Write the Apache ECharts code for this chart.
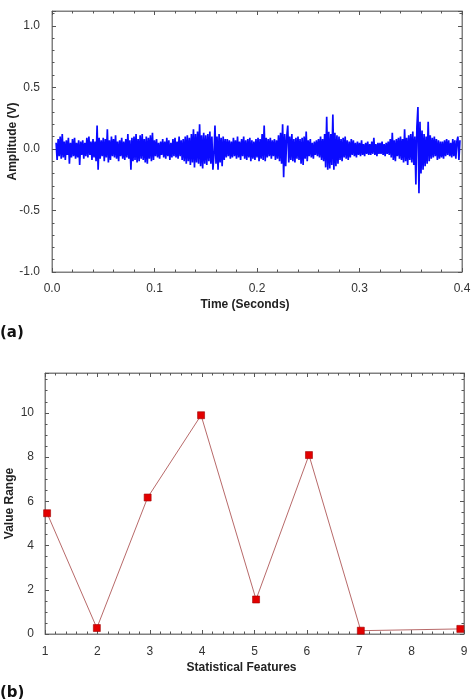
<!DOCTYPE html>
<html>
<head>
<meta charset="utf-8">
<script src="https://cdn.jsdelivr.net/npm/echarts@6/dist/echarts.min.js"></script>
<style>
html,body{margin:0;padding:0;background:#fff;}
#c{width:474px;height:699px;}
</style>
</head>
<body>
<div id="c"></div>
<script>
// ---- (a) vibration signal: amplitude samples (V), one every 1 ms starting at 4 ms ----
var signalStart = 0.004;
var signalStep = 0.001;
var amplitude = [
 0.05,-0.09,0.08,-0.06,0.1,-0.08,
 0.12,-0.07,0.06,-0.09,0.07,-0.05,0.09,-0.12,0.05,-0.07,
 0.08,-0.06,0.09,-0.08,0.05,-0.07,0.07,-0.13,0.06,-0.05,
 0.07,-0.08,0.05,-0.06,0.09,-0.07,0.1,-0.05,0.06,-0.09,
 0.08,-0.07,0.06,-0.1,0.19,-0.17,0.09,-0.08,0.07,-0.06,
 0.09,-0.1,0.08,-0.07,0.16,-0.11,0.07,-0.09,0.1,-0.06,
 0.08,-0.07,0.11,-0.08,0.06,-0.1,0.07,-0.06,0.09,-0.08,
 0.06,-0.09,0.08,-0.07,0.12,-0.08,0.07,-0.17,0.09,-0.1,
 0.1,-0.09,0.12,-0.11,0.08,-0.1,0.11,-0.08,0.12,-0.09,
 0.08,-0.11,0.1,-0.12,0.09,-0.08,0.11,-0.1,0.13,-0.09,
 0.07,-0.06,0.08,-0.07,0.05,-0.08,0.06,-0.05,0.08,-0.07,
 0.06,-0.08,0.09,-0.06,0.07,-0.09,0.05,-0.07,0.08,-0.06,
 0.09,-0.07,0.06,-0.08,0.1,-0.06,0.07,-0.09,0.08,-0.1,
 0.1,-0.12,0.11,-0.1,0.09,-0.13,0.12,-0.11,0.16,-0.15,
 0.12,-0.11,0.14,-0.12,0.2,-0.14,0.11,-0.16,0.13,-0.12,
 0.11,-0.13,0.12,-0.1,0.14,-0.12,0.1,-0.17,-0.05,0.19,
 -0.12,0.1,-0.17,0.12,-0.11,0.09,-0.14,0.1,-0.09,0.08,
 -0.07,0.08,-0.06,0.07,-0.08,0.06,-0.07,0.09,-0.06,0.07,
 -0.08,0.1,-0.07,0.06,-0.09,0.08,-0.06,0.1,-0.08,0.07,
 -0.09,0.08,-0.07,0.09,-0.1,0.07,-0.08,0.06,-0.09,0.08,
 -0.07,0.09,-0.1,0.08,-0.08,0.12,-0.09,0.19,-0.1,0.09,
 -0.07,0.08,-0.06,0.09,-0.08,0.07,-0.06,0.08,-0.09,0.07,
 -0.08,0.11,-0.1,0.13,-0.12,0.2,-0.23,0.12,-0.14,0.1,
 0.19,-0.11,0.1,-0.09,0.12,-0.1,0.08,-0.11,0.09,-0.08,
 0.1,-0.09,0.08,-0.12,0.09,-0.13,0.1,-0.08,0.14,-0.1,
 0.07,-0.06,0.08,-0.07,0.05,-0.08,0.06,-0.05,0.07,-0.06,
 0.08,-0.07,0.1,-0.09,0.08,-0.1,0.12,-0.15,0.26,-0.17,
 0.14,-0.16,0.12,-0.13,0.28,-0.17,0.13,-0.14,0.11,-0.12,
 0.1,-0.09,0.08,-0.1,0.09,-0.07,0.1,-0.08,0.07,-0.09,
 0.06,-0.07,0.08,-0.05,0.07,-0.06,0.05,-0.07,0.06,-0.05,
 0.05,-0.06,0.07,-0.05,0.04,-0.06,0.05,-0.04,0.06,-0.05,
 0.04,-0.05,0.06,-0.04,0.09,-0.05,0.04,-0.06,0.05,-0.04,
 0.05,-0.04,0.06,-0.05,0.04,-0.06,0.05,-0.04,0.06,-0.05,
 0.08,-0.07,0.13,-0.09,0.07,-0.1,0.08,-0.06,0.09,-0.08,
 0.1,-0.09,0.08,-0.11,0.16,-0.1,0.09,-0.13,0.11,-0.09,
 0.12,-0.11,0.14,-0.13,0.1,-0.29,0.18,0.34,-0.36,0.22,
 -0.2,0.15,-0.17,0.12,-0.14,0.1,-0.12,0.22,-0.1,0.11,
 -0.08,0.09,-0.07,0.1,-0.06,0.08,-0.09,0.07,-0.08,0.06,
 -0.07,0.06,-0.08,0.07,-0.06,0.08,-0.05,0.07,-0.06,0.05,
 -0.07,0.08,-0.06,0.07,-0.08,0.06,0.1,-0.09,0.07
];

// ---- (b) statistical features ----
var featureIndex = [1.04, 1.99, 2.96, 3.98, 5.03, 6.04, 7.03, 8.93];
var featureValue = [5.46, 0.27, 6.17, 9.89, 1.56, 8.09, 0.15, 0.23];

var signalData = amplitude.map(function (v, i) {
  return [+(signalStart + i * signalStep).toFixed(3), v];
});
var featureData = featureIndex.map(function (x, i) { return [x, featureValue[i]]; });

var FONT = '"Liberation Sans", Arial, sans-serif';
var labelStyle = { color: '#333', fontSize: 12, fontFamily: FONT };
var TICK = { color: '#555', width: 1 };

function axis(grid, min, max, interval, split, pos, opts) {
  var a = {
    type: 'value', gridIndex: grid, min: min, max: max, interval: interval,
    position: pos,
    axisLine: { show: true, onZero: false, lineStyle: { color: '#808080', width: 1 } },
    axisTick: { show: true, inside: true, length: 4, lineStyle: TICK },
    minorTick: { show: true, splitNumber: split, length: 2.5, lineStyle: TICK },
    axisLabel: { show: false },
    splitLine: { show: false }
  };
  if (opts) {
    a.name = opts.name; a.nameLocation = 'middle'; a.nameGap = opts.gap;
    if (opts.noMove) a.nameMoveOverlap = false;
    a.nameTextStyle = { color: '#222', fontSize: 12, fontWeight: 'bold', fontFamily: FONT, padding: opts.pad || 0 };
    a.axisLabel = Object.assign({ show: true, margin: opts.margin, showMaxLabel: opts.showMax, formatter: opts.fmt }, labelStyle);
  }
  return a;
}

var chart = echarts.init(document.getElementById('c'), null, { renderer: 'canvas' });
chart.setOption({
  backgroundColor: '#fff',
  animation: false,
  grid: [
    { left: 52, right: 12, top: 11, height: 261, containLabel: false, outerBoundsMode: 'none',
      show: true, borderColor: '#808080', borderWidth: 1, backgroundColor: 'transparent' },
    { left: 45, right: 10, top: 373, height: 261, containLabel: false, outerBoundsMode: 'none',
      show: true, borderColor: '#808080', borderWidth: 1, backgroundColor: 'transparent' }
  ],
  xAxis: [
    axis(0, 0, 0.4, 0.1, 5, 'bottom', { name: 'Time (Seconds)', gap: 27, margin: 11, showMax: true, pad: [0, 24, 0, 0], fmt: function (v) { return v.toFixed(1); } }),
    axis(0, 0, 0.4, 0.1, 5, 'top'),
    axis(1, 1, 9, 1, 5, 'bottom', { name: 'Statistical Features', gap: 28, margin: 12, showMax: true, pad: [0, 26, 0, 0], fmt: function (v) { return String(v); } }),
    axis(1, 1, 9, 1, 5, 'top')
  ],
  yAxis: [
    axis(0, -1, 1.12, 0.5, 5, 'left', { name: 'Amplitude (V)', gap: 33, margin: 12, showMax: false, noMove: true, fmt: function (v) { return v.toFixed(1); } }),
    axis(0, -1, 1.12, 0.5, 5, 'right'),
    axis(1, 0, 11.8, 2, 4, 'left', { name: 'Value Range', gap: 29, margin: 11, showMax: false, noMove: true, fmt: function (v) { return String(v); } }),
    axis(1, 0, 11.8, 2, 4, 'right')
  ],
  graphic: [
    { type: 'text', left: 0, top: 326, style: { text: '(a)', font: 'bold 15px "DejaVu Sans", sans-serif', fill: '#111' } },
    { type: 'text', left: 0, top: 686, style: { text: '(b)', font: 'bold 15px "DejaVu Sans", sans-serif', fill: '#111' } }
  ],
  series: [
    {
      type: 'line', xAxisIndex: 0, yAxisIndex: 0, data: signalData,
      showSymbol: false, symbol: 'none',
      lineStyle: { color: '#0a0aff', width: 1.7 },
      z: 3
    },
    {
      type: 'line', xAxisIndex: 2, yAxisIndex: 2, data: featureData,
      symbol: 'rect', symbolSize: 7,
      lineStyle: { color: '#b86a6a', width: 1 },
      itemStyle: { color: '#e30000', borderColor: '#a00000', borderWidth: 0.6 },
      z: 3
    }
  ]
});
</script>
</body>
</html>
